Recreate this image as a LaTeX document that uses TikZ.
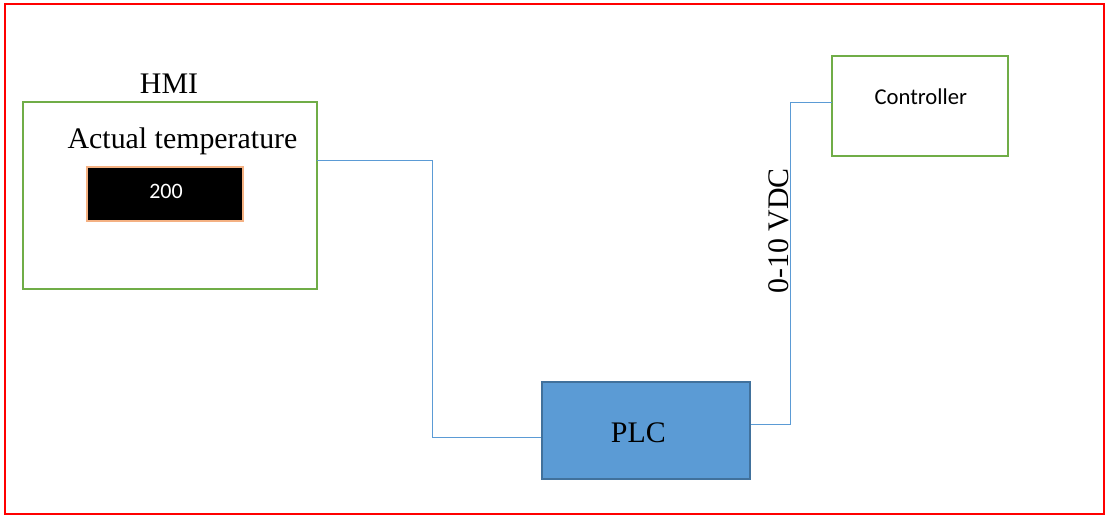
\documentclass[tikz,border=0pt]{standalone}
\usepackage{fontspec}
\setmainfont{Liberation Serif}
\newfontfamily\calibri{Carlito}
\definecolor{frame}{HTML}{FF0000}
\definecolor{grn}{HTML}{70AD47}
\definecolor{wireblue}{HTML}{5B9BD5}
\definecolor{plcfill}{HTML}{5B9BD5}
\definecolor{plcdraw}{HTML}{41719C}
\definecolor{orng}{HTML}{F4B183}
\begin{document}
\begin{tikzpicture}[x=0.75pt,y=-0.75pt,
  greenbox/.style={draw=grn,line width=1.5pt,fill=white,inner sep=0pt,outer sep=0pt},
  wire/.style={draw=wireblue,line width=0.75pt},
  serif/.style={inner sep=0pt,anchor=base,font=\fontsize{22.4}{26}\selectfont},
  sans/.style={inner sep=0pt,anchor=base}]
\useasboundingbox (0,0) rectangle (1109,517);
\fill[white] (0,0) rectangle (1109,517);
\node[draw=frame,line width=1.5pt,inner sep=0pt,minimum width=824.25pt,minimum height=382.5pt] (frm) at (554.5,259) {};
% boxes
\node[greenbox,minimum width=220.5pt,minimum height=140.25pt] (HMI) at (170,195.5) {};
\node[draw=orng,line width=1.5pt,fill=black,inner sep=0pt,minimum width=117pt,minimum height=40.5pt] (disp) at (165,194) {};
\node[greenbox,minimum width=132pt,minimum height=75pt] (Ctrl) at (920,106) {};
\node[draw=plcdraw,fill=plcfill,line width=1.5pt,inner sep=0pt,minimum width=156pt,minimum height=72.75pt] (PLC) at (646,430.5) {};
% texts
\node[serif] (hmilbl) at (169,93.3) {HMI};
\node[serif] (atlbl) at (182.5,148.3) {Actual temperature};
\node[sans,text=white,font=\calibri\fontsize{16.5}{19}\selectfont] (val) at (166,198.3) {200};
\node[sans,font=\calibri\fontsize{17}{20}\selectfont] (ctrllbl) at (920.8,104.3) {Controller};
\node[serif] (plclbl) at (638.3,442.3) {PLC};
\node[serif,rotate=90] (vdc) at (788,231) {0-10 VDC};
% connectors
\coordinate (a1) at (432,160);
\coordinate (a2) at (432,437.5);
\coordinate (b1) at (790,424);
\coordinate (b2) at (790,102);
\draw[wire] (HMI.east |- a1) -- (a1) -- (a2) -- (a2 -| PLC.west);
\draw[wire] (PLC.east |- b1) -- (b1) -- (b2) -- (b2 -| Ctrl.west);
\end{tikzpicture}
\end{document}
